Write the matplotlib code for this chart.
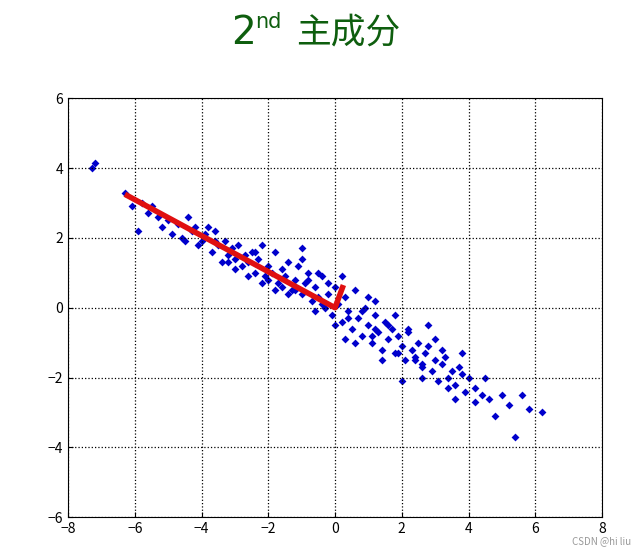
import matplotlib.pyplot as plt

plt.rcParams['font.family'] = ['Noto Sans CJK SC', 'DejaVu Sans']

# approximate samples read off the point cloud
pts_x = [-7.3, -7.2, -6.3, -6.1, -5.9, -5.8, -5.6, -5.5, -5.3, -5.2, -5.0, -4.9, -4.7, -4.6, -4.5,
         -4.3, -4.2, -4.1, -4.0, -3.9, -3.8, -3.7, -3.6, -3.5, -3.4, -3.3, -3.2, -3.1, -3.0, -2.9,
         -2.8, -2.7, -2.6, -2.5, -2.4, -2.3, -2.2, -2.1, -2.0, -1.9, -1.8, -1.7, -1.6, -1.5, -1.4,
         -1.3, -1.2, -1.1, -1.0, -0.9, -0.8, -0.7, -0.6, -0.5, -0.4, -0.3, -0.2, -0.1, 0.0, 0.1,
         0.2, 0.3, 0.4, 0.5, 0.6, 0.7, 0.8, 0.9, 1.0, 1.1, 1.2, 1.3, 1.4, 1.5, 1.6, 1.7, 1.8,
         1.9, 2.0, 2.1, 2.2, 2.3, 2.4, 2.5, 2.6, 2.7, 2.8, 2.9, 3.0, 3.1, 3.2, 3.3, 3.4, 3.5,
         3.6, 3.7, 3.8, 3.9, 4.0, 4.2, 4.4, 4.6, 4.8, 5.0, 5.2, 5.4, 5.6, 5.8, 6.2,
         -4.4, -3.6, -3.0, -2.6, -2.2, -1.8, -1.4, -1.0, -0.6, -0.2, 0.2, 0.6, 1.0, 1.4, 1.8,
         2.2, 2.6, 3.0, 3.4, 3.8, 4.2, -1.0, -0.5, 0.3, 1.2, 2.0, 2.8, 3.6, 4.5, 1.1, 1.9,
         -3.2, -2.4, -1.6, -0.8, 0.0, 0.8, 1.6, 2.4, 3.2, -2.0, -1.2, -0.4, 0.4, 1.2, 2.6]
pts_y = [4.0, 4.15, 3.3, 2.9, 2.2, 3.0, 2.7, 2.9, 2.6, 2.3, 2.5, 2.1, 2.4, 2.0, 1.9,
         2.2, 2.3, 1.8, 1.9, 2.1, 2.3, 1.6, 1.9, 1.8, 1.3, 1.9, 1.5, 1.7, 1.4, 1.8,
         1.2, 1.5, 1.3, 1.6, 1.0, 1.4, 1.8, 0.9, 1.2, 1.0, 1.6, 0.7, 1.1, 0.9, 1.3,
         0.5, 0.8, 1.2, 0.4, 0.7, 1.0, 0.2, 0.6, 0.3, 0.9, 0.0, 0.4, -0.2, 0.6, 0.1,
         -0.4, 0.3, -0.1, -0.6, 0.5, -0.3, -0.8, 0.0, -0.5, -1.0, -0.2, -0.7, -1.2, -0.4, -0.9,
         -0.6, -1.3, -0.8, -1.1, -1.5, -0.7, -1.2, -1.4, -1.0, -1.7, -1.3, -1.1, -1.8, -1.5, -2.1,
         -1.6, -1.4, -2.0, -1.8, -2.2, -1.7, -1.9, -2.4, -2.0, -2.3, -2.5, -2.6, -3.1, -2.5, -2.8,
         -3.7, -2.5, -2.9, -3.0,
         2.6, 2.2, 1.1, 0.9, 0.7, 0.5, 0.4, 1.4, -0.1, 0.7, 0.9, -1.0, 0.3, -1.5, -0.2,
         -0.6, -2.0, -0.9, -2.3, -1.3, -2.7, 1.7, 1.0, -0.9, 0.2, -2.1, -0.5, -2.6, -2.0, -0.8, -1.3,
         1.3, 1.6, 0.6, 0.8, -0.5, -0.1, -0.5, -1.5, -1.2, 0.8, 0.5, 0.1, -0.3, -0.6, -1.6]

line_x = [-6.3, 0.0, 0.25]
line_y = [3.25, 0.0, 0.65]

fig = plt.figure(figsize=(6.37, 5.52), dpi=100)
ax = fig.add_axes([0.107, 0.063, 0.838, 0.759])
ax.scatter(pts_x, pts_y, s=16, marker='D', color='#0000cc', linewidths=0)
ax.plot(line_x, line_y, color='#e01010', lw=4, solid_capstyle='butt')
ax.set_xlim(-8, 8)
ax.set_ylim(-6, 6)
ax.set_xticks(range(-8, 9, 2))
ax.set_yticks(range(-6, 7, 2))
ax.grid(True, linestyle=':', color='black', lw=0.9)
ax.tick_params(labelsize=10, direction='in')

fig.text(0.363, 0.94, '2', fontsize=28, color='#0e5e0e', ha='left', va='center', family='DejaVu Sans')
fig.text(0.4, 0.96, 'nd', fontsize=15, color='#0e5e0e', ha='left', va='center', family='DejaVu Sans')
fig.text(0.465, 0.94, '主成分', fontsize=25, color='#0e5e0e', ha='left', va='center')
fig.text(0.99, 0.01, 'CSDN @hi liu', fontsize=7, color='#999999', ha='right', va='bottom')

fig.savefig('out.png', dpi=100)
